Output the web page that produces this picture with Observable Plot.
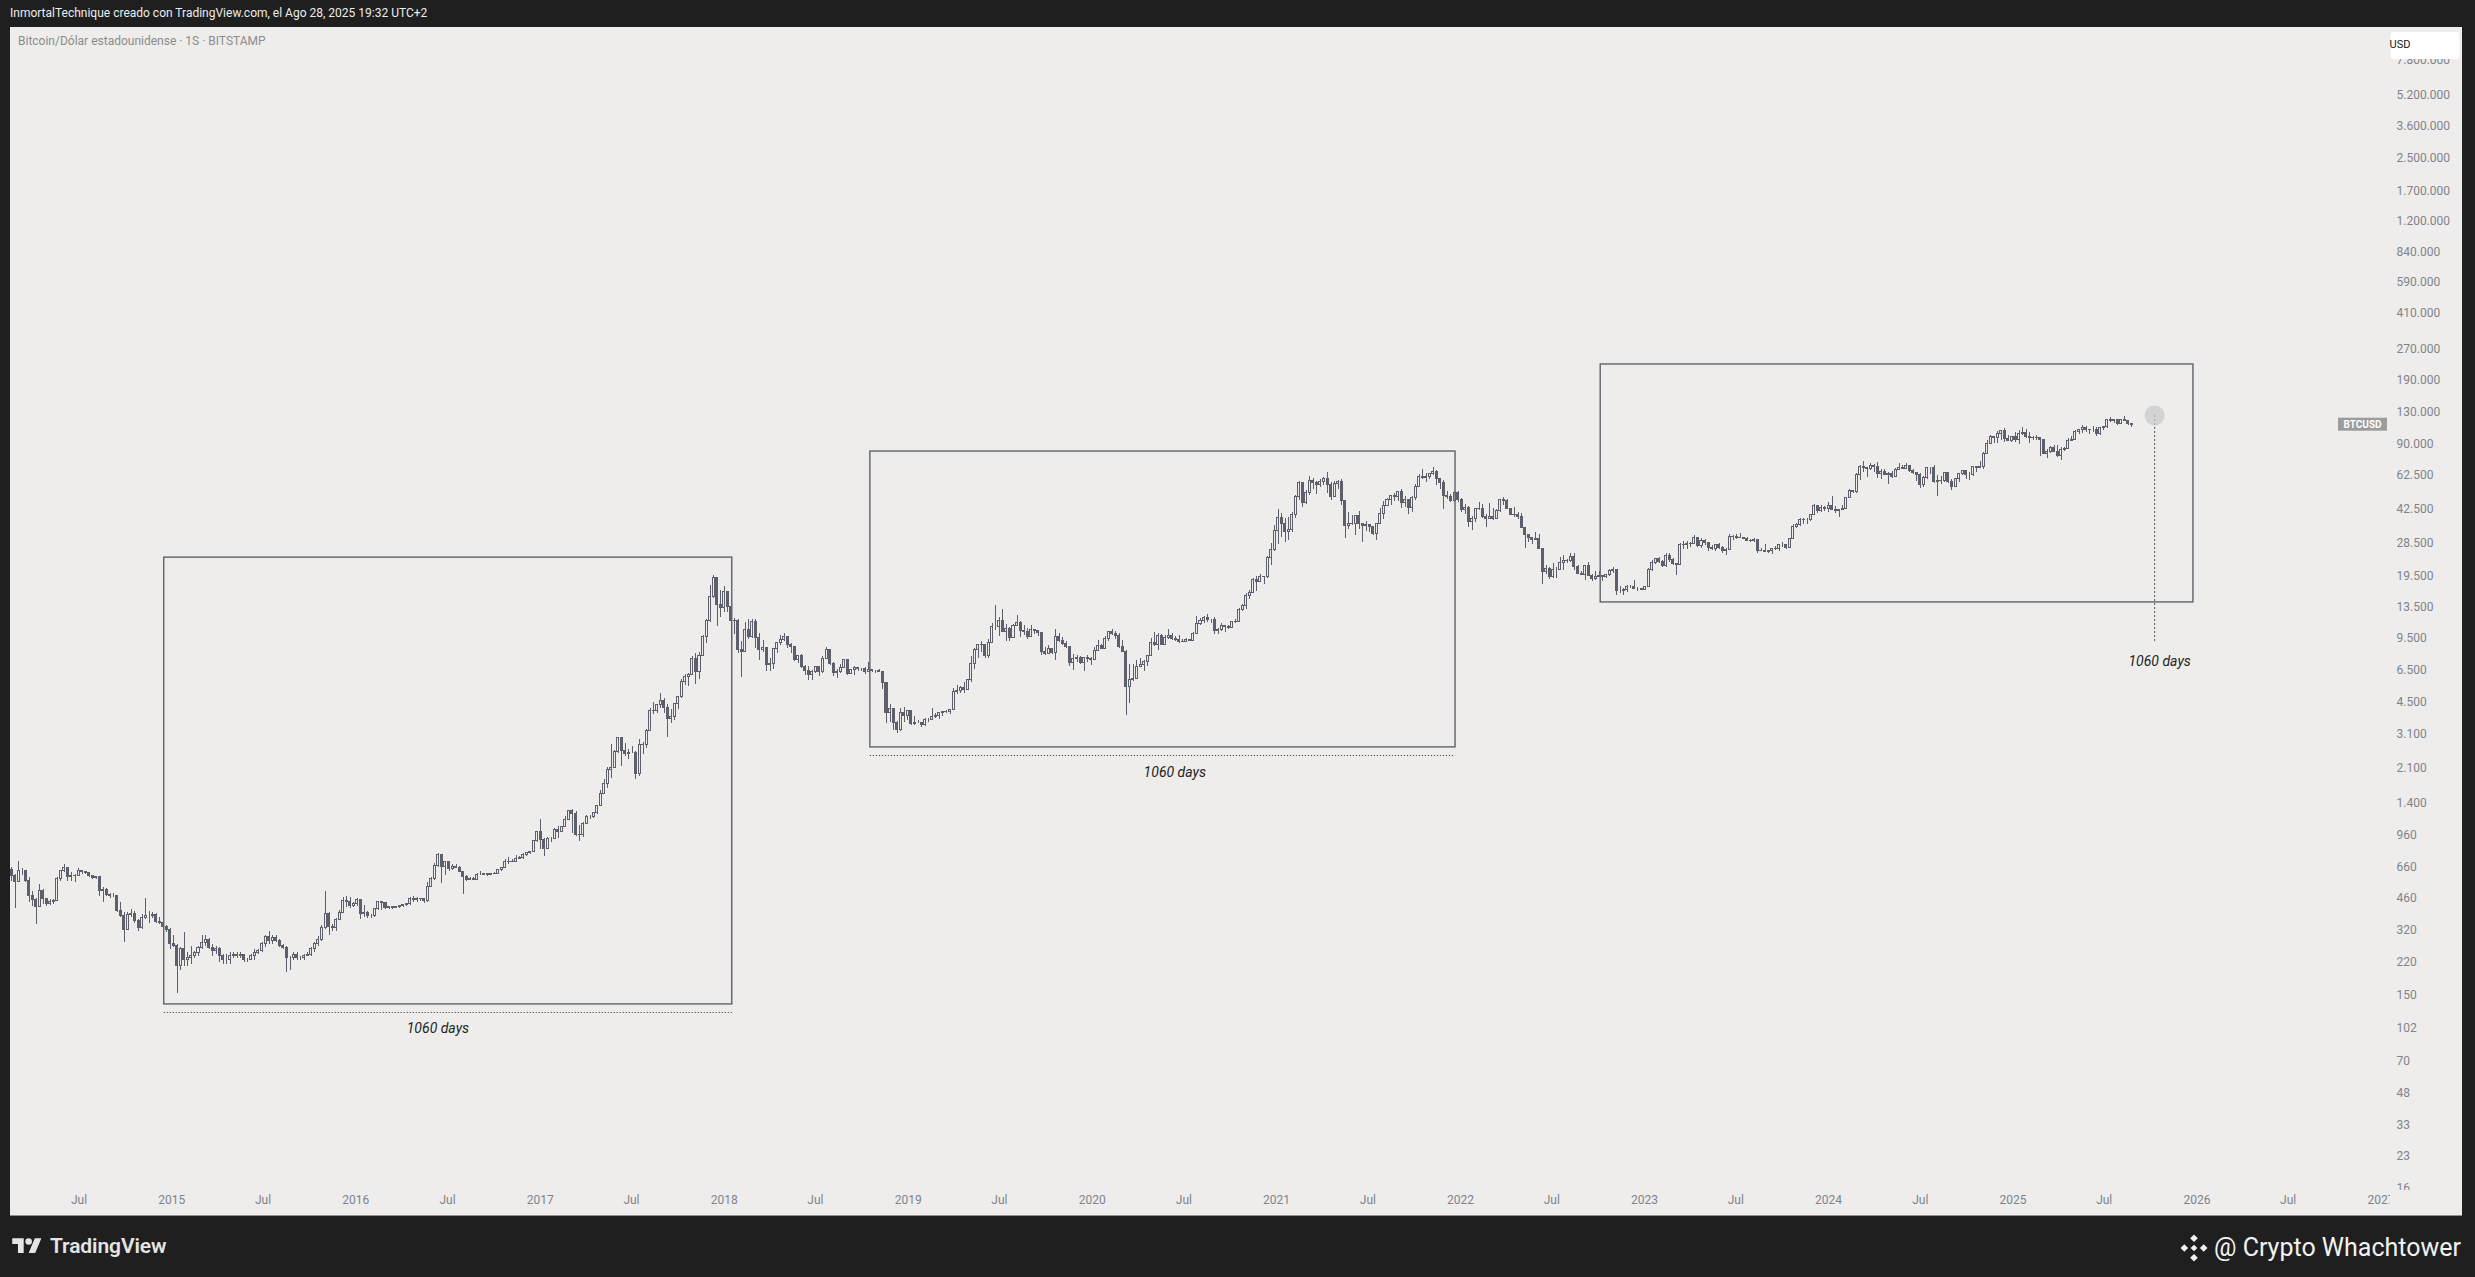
<!DOCTYPE html>
<html>
<head>
<meta charset="utf-8">
<script src="https://cdn.jsdelivr.net/npm/d3@7"></script>
<script src="https://cdn.jsdelivr.net/npm/@observablehq/plot@0.6"></script>
<style>
  html, body { margin: 0; padding: 0; background: #1f1f1f; width: 2475px; height: 1277px; overflow: hidden; font-family: Roboto, "Liberation Sans", sans-serif; }
  #top { position: absolute; left: 10px; top: 6px; color: #ececec; font-size: 12px; white-space: nowrap; }
  #panel { position: absolute; left: 10px; top: 27px; width: 2452px; height: 1188px; background: #eeedeb; box-shadow: 0 1px 0 #8e8e8e; overflow: hidden; }
  #panel svg { position: absolute; left: 0; top: 0; }
  #sym { position: absolute; left: 8px; top: 7px; font-size: 12px; color: #8c8c8c; z-index: 2; white-space: nowrap; }
  #tv { position: absolute; left: 12px; top: 1234px; display: flex; align-items: center; color: #e4e4e4; font-size: 21px; font-weight: 600; letter-spacing: -0.1px; }
  #tv svg { margin-right: 8px; }
  #brand { position: absolute; left: 2180px; top: 1233px; display: flex; align-items: center; color: #f2f2f2; font-size: 25px; white-space: nowrap; }
  #brand svg { margin-right: 6px; }
</style>
</head>
<body>
<div id="top">InmortalTechnique creado con TradingView.com, el Ago 28, 2025 19:32 UTC+2</div>
<div id="panel"><div id="sym">Bitcoin/Dólar estadounidense · 1S · BITSTAMP</div></div>
<div id="tv">
  <svg width="30" height="23" viewBox="0 0 36 28"><path d="M14 22H7V11H0V4h14v18zM28 22h-8l7.5-18h8L28 22z" fill="#e4e4e4"/><circle cx="20" cy="8" r="4" fill="#e4e4e4"/></svg>
  <span>TradingView</span>
</div>
<div id="brand">
  <svg width="28" height="28" viewBox="0 0 26 26" fill="#f2f2f2">
    <rect x="10.5" y="1.5" width="5" height="5" transform="rotate(45 13 4)"/>
    <rect x="10.5" y="19.5" width="5" height="5" transform="rotate(45 13 22)"/>
    <rect x="1.5" y="10.5" width="5" height="5" transform="rotate(45 4 13)"/>
    <rect x="19.5" y="10.5" width="5" height="5" transform="rotate(45 22 13)"/>
    <rect x="10.8" y="10.8" width="4.4" height="4.4" transform="rotate(45 13 13)"/>
  </svg>
  <span>@ Crypto Whachtower</span>
</div>
<script>
// ---------------- DATA ----------------
// Weekly BTC/USD candles (Bitstamp, 1W): [close, high, low]; open = previous close.
const firstOpen = 640;
const yearStarts = ["2014-02-17","2015-01-05","2016-01-04","2017-01-02","2018-01-01","2019-01-07","2020-01-06","2021-01-04","2022-01-03","2023-01-02","2024-01-01","2025-01-06"];

const w2014 = [[600,660,560],[560,610,410],[630,710,560],[630,650,600],[565,630,555],[475,590,440],[450,500,420],[415,460,340],[500,540,415],[460,510,430],[430,460,420],[440,455,425],[445,455,430],[575,590,445],[630,635,560],[655,680,620],[590,660,560],[595,620,560],[600,610,555],[635,655,595],[625,640,610],[620,630,605],[595,625,585],[585,600,575],[590,595,575],[500,590,470],[510,520,440],[480,515,470],[475,490,460],[475,490,465],[400,475,390],[375,440,370],[320,390,275],[380,390,320],[385,405,370],[355,395,345],[325,360,315],[365,380,320],[375,460,360],[375,395,345],[380,390,365],[350,385,345],[345,370,340],[330,350,305],[320,335,310],[270,325,255]];
const w2015 = [[265,300,260],[210,270,152],[255,260,200],[225,310,210],[230,245,210],[235,265,215],[245,250,230],[260,265,235],[275,300,255],[285,300,265],[260,290,255],[250,270,235],[255,265,240],[235,260,220],[225,240,215],[225,240,215],[235,245,215],[240,245,230],[235,245,230],[240,245,230],[225,240,220],[225,230,220],[235,240,225],[245,255,225],[250,255,240],[270,275,245],[295,300,260],[280,315,270],[290,300,270],[280,300,275],[265,285,260],[260,270,255],[230,265,195],[230,235,200],[240,245,225],[230,245,225],[230,235,225],[235,240,225],[240,245,235],[255,260,235],[270,275,245],[285,295,265],[325,335,280],[385,500,320],[330,390,300],[325,340,315],[360,365,315],[390,400,355],[445,465,385],[440,470,415],[420,465,410],[430,440,415]];
const w2016 = [[450,460,420],[385,455,360],[390,425,370],[375,395,365],[375,380,365],[405,410,370],[440,445,400],[435,445,400],[410,440,405],[415,420,405],[410,420,405],[415,420,410],[420,425,410],[425,430,415],[430,435,420],[460,465,425],[450,470,440],[460,465,440],[455,460,445],[445,455,435],[525,555,440],[575,585,520],[670,690,570],[760,775,660],[660,765,550],[700,710,600],[650,705,630],[665,680,640],[655,680,650],[625,665,620],[590,625,480],[570,600,560],[580,590,565],[570,590,565],[605,615,565],[605,630,600],[610,615,600],[605,610,595],[610,615,600],[615,625,605],[640,645,610],[655,660,630],[700,720,650],[705,745,680],[700,725,695],[730,760,695],[735,750,720],[765,775,725],[780,785,750],[790,795,770],[895,905,790],[995,1000,880]];
const w2017 = [[905,1155,810],[820,920,750],[920,935,815],[920,930,880],[1015,1040,915],[1000,1065,925],[1050,1060,985],[1150,1190,1050],[1265,1285,1150],[1230,1290,975],[960,1260,940],[965,1070,890],[1090,1110,930],[1180,1200,1090],[1180,1210,1155],[1240,1250,1170],[1350,1355,1220],[1540,1620,1340],[1740,1840,1540],[2050,2100,1660],[2100,2760,1850],[2520,2560,2110],[2950,2970,2470],[2550,2980,2130],[2470,2780,2400],[2500,2600,2300],[2500,2700,2480],[1950,2540,1830],[2750,2900,1900],[2730,2830,2450],[3220,3280,2620],[4050,4180,3200],[4080,4480,3920],[4350,4400,3950],[4580,4980,4200],[4200,4700,3950],[3700,4400,2970],[3790,4120,3500],[4400,4440,3650],[4780,4800,4150],[5700,5860,4720],[6000,6180,5480],[6150,6300,5400],[7400,7600,6100],[6350,7900,5500],[7700,8000,5850],[9600,9700,7850],[11500,11800,8900],[15200,17400,11300],[19100,19666,15000],[13900,19000,10800],[13400,16500,12000]];
const w2018 = [[16200,17250,12800],[13600,16300,12800],[11600,14000,9000],[11500,11900,9900],[8200,11700,7900],[8100,9100,6000],[10400,11300,8000],[9600,11800,9300],[11400,11700,9400],[9500,11700,8350],[8200,10000,7300],[8450,9200,8000],[6900,8500,6400],[7000,7500,6450],[8350,8400,6600],[8900,9000,7900],[9300,9750,8650],[9600,9950,9050],[8700,9600,8400],[8500,8900,7950],[7350,8550,7250],[7700,7750,7050],[6750,7780,6650],[6450,6900,6100],[6150,6800,5800],[6350,6500,5800],[6750,6800,6250],[6350,6800,6070],[7400,7600,6300],[8200,8500,7400],[7000,8250,6900],[6300,7150,6050],[6400,6600,5900],[6700,6950,6250],[7300,7350,6650],[6250,7400,6100],[6500,6600,6200],[6700,6800,6100],[6600,6750,6450],[6600,6650,6450],[6400,6700,6200],[6500,7100,6350],[6450,6550,6380],[6450,6500,6250],[6400,6550,6350],[5600,6450,5200],[3950,5600,3500],[4150,4400,3550],[3550,4150,3250],[3250,3600,3120],[3950,4200,3200],[3850,4250,3550],[4050,4100,3650]];
const w2019 = [[3500,4100,3450],[3550,3800,3450],[3550,3650,3500],[3450,3550,3350],[3650,3700,3400],[3650,3700,3550],[3800,4200,3650],[3830,3950,3700],[3950,3980,3680],[4000,4050,3800],[3990,4100,3950],[4100,4150,3900],[5050,5300,4100],[5150,5450,4900],[5300,5400,5000],[5200,5650,5000],[5800,5850,5150],[7000,7600,5650],[8200,8350,6600],[8750,8800,7500],[8700,9100,8000],[7650,8750,7450],[8950,9300,7500],[10800,11200,8950],[10800,13880,10300],[11500,12000,9650],[10200,13200,10100],[10550,11100,9100],[9500,10650,9100],[10950,11100,9400],[11300,12300,11000],[10300,11500,9500],[10150,10950,9800],[9600,10600,9300],[10400,10900,9750],[10300,10450,9900],[10000,10300,9650],[8050,10100,7750],[7850,8500,7750],[8300,8700,7800],[7950,8420,7850],[9550,10500,7300],[9200,9950,9000],[8800,9500,8700],[8500,9100,8400],[7050,8500,6800],[7400,7850,6500],[7500,7750,7100],[7100,7600,7000],[7500,7550,6450],[7400,7700,7100],[7350,7550,6850]];
const w2020 = [[8150,8450,7350],[8650,9200,8100],[8350,8750,8250],[9350,9600,8300],[10150,10200,9150],[9900,10500,9700],[9650,10250,9300],[8550,9950,8400],[8050,9200,8000],[5350,8200,3850],[5850,6950,4450],[5900,6950,5700],[6800,7300,5850],[6900,7450,6750],[7150,7300,6450],[7700,7750,6800],[8900,9450,7650],[8750,10050,8600],[9650,9950,8200],[8750,9850,8700],[9450,9750,8650],[9650,10400,9300],[9350,10000,9200],[9300,9600,9100],[9000,9800,8850],[9050,9300,8950],[9250,9450,9050],[9200,9350,9050],[9950,10100,9150],[11100,12100,9950],[11600,11900,10950],[11900,12100,11150],[11700,12480,11400],[11700,11800,11150],[10250,12050,9900],[10350,10600,9900],[10900,11200,10250],[10750,11000,10150],[10650,10950,10400],[11400,11500,10550],[11350,11750,11250],[13050,13350,11400],[13750,14000,12900],[15450,15950,13200],[15950,16500,14850],[18650,18800,15800],[18150,19450,16200],[19350,19900,18100],[19250,19400,17600],[24100,24300,19000],[26450,28400,21900],[33000,34800,26000]];
const w2021 = [[38200,41950,28000],[35800,40000,30300],[32300,37900,28800],[33100,38500,29300],[39300,40900,32300],[48700,49700,38000],[57500,58300,47000],[45200,57500,43000],[51100,52500,44900],[59000,61700,49300],[57400,60500,53300],[55800,58400,50300],[58100,60000,54700],[60000,61200,55500],[56200,64900,51000],[49000,57500,47000],[56600,58400,48800],[58200,59000,53000],[46400,59600,43900],[34700,46600,30000],[35600,40900,33400],[35800,39500,34800],[39100,39500,31000],[35600,41300,33300],[34700,35700,28800],[35300,36600,32700],[34300,35100,32100],[31800,34700,31100],[35400,35400,29300],[39900,42600,35200],[43800,46000,37400],[47000,48100,43800],[49200,49400,43900],[48800,50500,46300],[51700,52000,46500],[45200,52900,42800],[47300,48800,43300],[42800,47400,39600],[48200,49200,40800],[54700,56600,46900],[61500,62900,54400],[60900,67000,59600],[61300,63700,57800],[63300,64300,59500],[65500,69000,62300],[59800,66400,55600],[57300,59500,53300],[49400,59200,42000],[48900,51900,47100],[46700,50200,45600],[50800,51900,45600],[47300,52100,45700]];
const w2022 = [[41800,47600,40600],[43100,44400,39700],[36300,43500,34000],[37900,38900,32900],[42400,42600,36300],[42200,45800,41700],[38400,44700,38000],[37700,39800,34300],[38400,45400,37600],[37800,42500,37200],[41300,42300,37600],[46800,46900,40500],[46400,48200,44200],[42200,47200,42000],[39700,42400,39200],[39500,42900,38600],[38500,40800,37600],[34000,40000,33700],[31300,34200,26700],[30300,31300,28700],[29400,30600,28000],[29900,32200,29300],[26600,31700,26500],[20500,26900,17600],[21000,21900,19700],[19300,21500,18700],[20800,22500,19000],[20800,21600,18900],[22600,24200,20800],[23300,24700,20700],[23200,23600,22400],[24300,25200,22700],[21500,25200,20800],[20000,21900,19800],[19800,20600,19500],[21800,21900,18500],[19400,22700,19300],[18800,19700,18200],[19300,20400,18500],[19400,20500,19300],[19200,19500,18200],[19600,19700,18900],[20600,21000,19300],[20900,21400,20100],[16300,21000,15500],[16300,17200,15900],[16450,16800,15500],[17100,17400,16000],[17100,17400,16900],[16800,18400,16600],[16800,17000,16300],[16600,16900,16400]];
const w2023 = [[17150,17200,16600],[20900,21300,17100],[22700,23300,20400],[23700,23900,22300],[22900,24200,22500],[21800,23400,21400],[24600,25200,21400],[23500,25300,22800],[22400,23900,21900],[22000,22600,19600],[28000,28500,21900],[27900,28900,26600],[28200,29200,26600],[28300,28800,27200],[30300,31000,28200],[27600,30500,27100],[29200,30000,26900],[28700,29800,27700],[26900,28800,25800],[26700,27700,26200],[28000,28200,25900],[27100,28400,26500],[25900,27400,25400],[26300,26800,24800],[30500,31400,26200],[30600,31200,29500],[30200,31400,29700],[30300,31800,30000],[29800,30400,29600],[29300,30300,29100],[29100,29900,28600],[29400,30200,28800],[26100,29700,25200],[26000,26800,25800],[25800,28100,25700],[25900,26100,25400],[26500,26900,24900],[26600,27500,26200],[27900,27900,26000],[27900,28600,27200],[27100,28000,26500],[30000,30200,26900],[34500,35200,29900],[35000,35900,33900],[37100,38000,34600],[37400,37900,35200],[37400,38000,35600],[39400,39500,36800],[43800,44700,39400],[41600,44000,40200],[43000,44300,40600],[42300,43800,41300]];
const w2024 = [[43900,45900,40700],[41700,49000,41500],[41600,43600,40300],[42100,42300,38500],[42600,43900,41800],[48300,48600,42200],[52100,52900,47700],[51700,52500,50500],[63100,64000,50900],[68900,70100,59000],[68400,73800,64500],[67200,68900,60800],[69600,71600,66400],[69400,71200,64500],[63900,72800,60700],[64900,66900,59600],[63100,67200,62800],[63900,64700,56500],[61500,65500,60200],[66300,67700,60800],[68500,71900,66100],[67800,70000,66700],[69600,71900,67700],[66200,70200,65100],[64300,67000,63400],[62700,64500,58500],[55800,63800,53500],[60800,61500,54300],[68200,68400,59900],[68200,68500,63400],[58100,70000,57200],[58700,62700,49000],[58400,61800,56200],[64200,65000,57800],[58000,64900,57200],[54800,59800,52500],[59900,60700,54600],[63600,64100,57500],[65600,66500,62700],[62800,65500,59800],[62800,64500,58900],[69000,69400,62000],[68000,69500,65100],[68800,73600,67500],[80400,81500,66800],[89800,93400,80200],[98000,99600,89400],[97200,98700,90800],[101200,104000,90500],[104400,105200,94200],[95200,108300,92200],[93700,99900,92600],[98300,98900,91500]];
const w2025 = [[94500,102700,91300],[101300,106000,89300],[102700,109300,99700],[97700,106400,96500],[96500,102500,91200],[96100,98800,94100],[96300,99500,93400],[94300,96500,78200],[80700,95000,80000],[82600,84200,76600],[86100,87500,81200],[82500,88800,81600],[78200,88500,77200],[83700,86100,74500],[85100,86500,83000],[93700,95700,85100],[94300,97900,92900],[104000,104900,93400],[106500,106700,100700],[109000,111900,102100],[105700,110700,103100],[105600,106800,100400],[105600,110500,102700],[100900,108900,98200],[108400,108500,99600],[109200,110500,105100],[119000,119500,107500],[117300,123200,115700],[119400,120200,114700],[114100,119800,112000],[119300,119400,112600],[117500,124500,116800],[113500,117600,111700],[112800,113600,108700]];

// Axis ticks
const yTicks = [16,23,33,48,70,102,150,220,320,460,660,960,1400,2100,3100,4500,6500,9500,13500,19500,28500,42500,62500,90000,130000,190000,270000,410000,590000,840000,1200000,1700000,2500000,3600000,5200000,7800000];
const xTicks = ["2014-07-01","2015-01-01","2015-07-01","2016-01-01","2016-07-01","2017-01-01","2017-07-01","2018-01-01","2018-07-01","2019-01-01","2019-07-01","2020-01-01","2020-07-01","2021-01-01","2021-07-01","2022-01-01","2022-07-01","2023-01-01","2023-07-01","2024-01-01","2024-07-01","2025-01-01","2025-07-01","2026-01-01","2026-07-01","2027-01-01"];

// Drawings (rectangles spanning the cycles, date-range lines and labels)
const boxes = [
  {start: "2014-12-17", end: "2018-01-17", top: 24100, bottom: 134.5},
  {start: "2018-10-18", end: "2021-12-22", top: 82600, bottom: 2660},
  {start: "2022-10-06", end: "2025-12-25", top: 227000, bottom: 14320}
];
const rangeLines = [
  {start: "2014-12-17", end: "2018-01-17", price: 122.5},
  {start: "2018-10-18", end: "2021-12-22", price: 2420}
];
const rangeLabels = [
  {date: "2016-06-12", price: 101.7, text: "1060 days"},
  {date: "2020-06-13", price: 1990, text: "1060 days"},
  {date: "2025-10-19", price: 7215, text: "1060 days"}
];
const projection = [{date: "2025-10-09", price: 125600, to: 8890}];

// ---------------- BUILD ----------------
const DAY = 864e5;
const toDate = s => new Date(s + "T00:00:00Z");
const years = [w2014,w2015,w2016,w2017,w2018,w2019,w2020,w2021,w2022,w2023,w2024,w2025];
const candles = [];
let prev = firstOpen;
years.forEach((rows, k) => {
  const t0 = +toDate(yearStarts[k]);
  rows.forEach(([c, h, l], i) => {
    const o = prev;
    candles.push({date: new Date(t0 + i * 7 * DAY), open: o, close: c, high: Math.max(h, o, c), low: Math.min(l, o, c)});
    prev = c;
  });
});

const BG = "#eeedeb";
const CANDLE = "#5d606b";
const AXIS = "#80838c";
const fmtNum = d3.formatLocale({decimal: ",", thousands: ".", grouping: [3], currency: ["", ""]}).format(",d");

const W = 2452, H = 1188, MR = 72, MB = 25;

const plot = Plot.plot({
  width: W, height: H,
  marginLeft: 0, marginRight: MR, marginTop: 0, marginBottom: MB,
  style: {background: "transparent", fontFamily: "Roboto, 'Liberation Sans', sans-serif", fontSize: "12px"},
  x: {type: "utc", domain: [toDate("2014-02-15"), toDate("2027-01-20")], axis: null},
  y: {type: "log", domain: [15.5, 11360000], axis: null},
  marks: [
    Plot.text(yTicks, {y: d => d, text: d => fmtNum(d), frameAnchor: "right", dx: 6, textAnchor: "start", fill: AXIS, fontSize: 12}),
    Plot.text(xTicks, {x: d => toDate(d), text: d => d.endsWith("-01-01") ? d.slice(0, 4) : "Jul",
      frameAnchor: "bottom", dy: 13, fill: AXIS, fontSize: 12}),
    Plot.ruleX(candles, {x: "date", y1: "low", y2: "high", stroke: CANDLE, strokeWidth: 1, shapeRendering: "crispEdges"}),
    Plot.rect(candles, {
      x1: d => new Date(+d.date - 2 * DAY), x2: d => new Date(+d.date + 2 * DAY),
      y1: "open", y2: "close",
      fill: d => d.close >= d.open ? BG : CANDLE,
      stroke: CANDLE, strokeWidth: 1, shapeRendering: "crispEdges"
    }),
    Plot.rect(boxes, {x1: d => toDate(d.start), x2: d => toDate(d.end), y1: "bottom", y2: "top",
      fill: "none", stroke: "#5f626c", strokeWidth: 1.4}),
    Plot.ruleY(rangeLines, {x1: d => toDate(d.start), x2: d => toDate(d.end), y: "price",
      stroke: "#2b2b2b", strokeWidth: 1, strokeDasharray: "1,2"}),
    Plot.ruleX(projection, {x: d => toDate(d.date), y1: "price", y2: "to", stroke: "#55575f", strokeWidth: 1, strokeDasharray: "2,2"}),
    Plot.dot(projection, {x: d => toDate(d.date), y: "price", r: 10, fill: "#c9c9cc", fillOpacity: 0.75, stroke: "none"}),
    Plot.text(rangeLabels, {x: d => toDate(d.date), y: "price", text: "text", fontStyle: "italic", fontSize: 14, fill: "#1e1e1e"})
  ]
});

document.getElementById("panel").appendChild(plot);

// price-scale chrome: cover corner, symbol tag at last close, currency box
const svg = d3.select(plot);
const ys = plot.scale("y");
const last = candles[candles.length - 1];
svg.append("rect").attr("x", W - MR).attr("y", H - MB).attr("width", MR).attr("height", MB).attr("fill", BG);
const ty = ys.apply(last.close);
svg.append("rect").attr("x", W - MR - 52).attr("y", ty - 6.5).attr("width", 49).attr("height", 13).attr("fill", "#9c9c9c");
svg.append("text").attr("x", W - MR - 27.5).attr("y", ty + 3.6).attr("text-anchor", "middle")
  .attr("fill", "#ffffff").attr("font-size", 10).attr("font-weight", 700).text("BTCUSD");
svg.append("rect").attr("x", W - MR + 0.5).attr("y", 5).attr("width", 69).attr("height", 27).attr("rx", 3).attr("fill", "#ffffff");
svg.append("text").attr("x", W - MR + 10).attr("y", 21).attr("fill", "#131722").attr("font-size", 11).text("USD");
</script>
</body>
</html>
